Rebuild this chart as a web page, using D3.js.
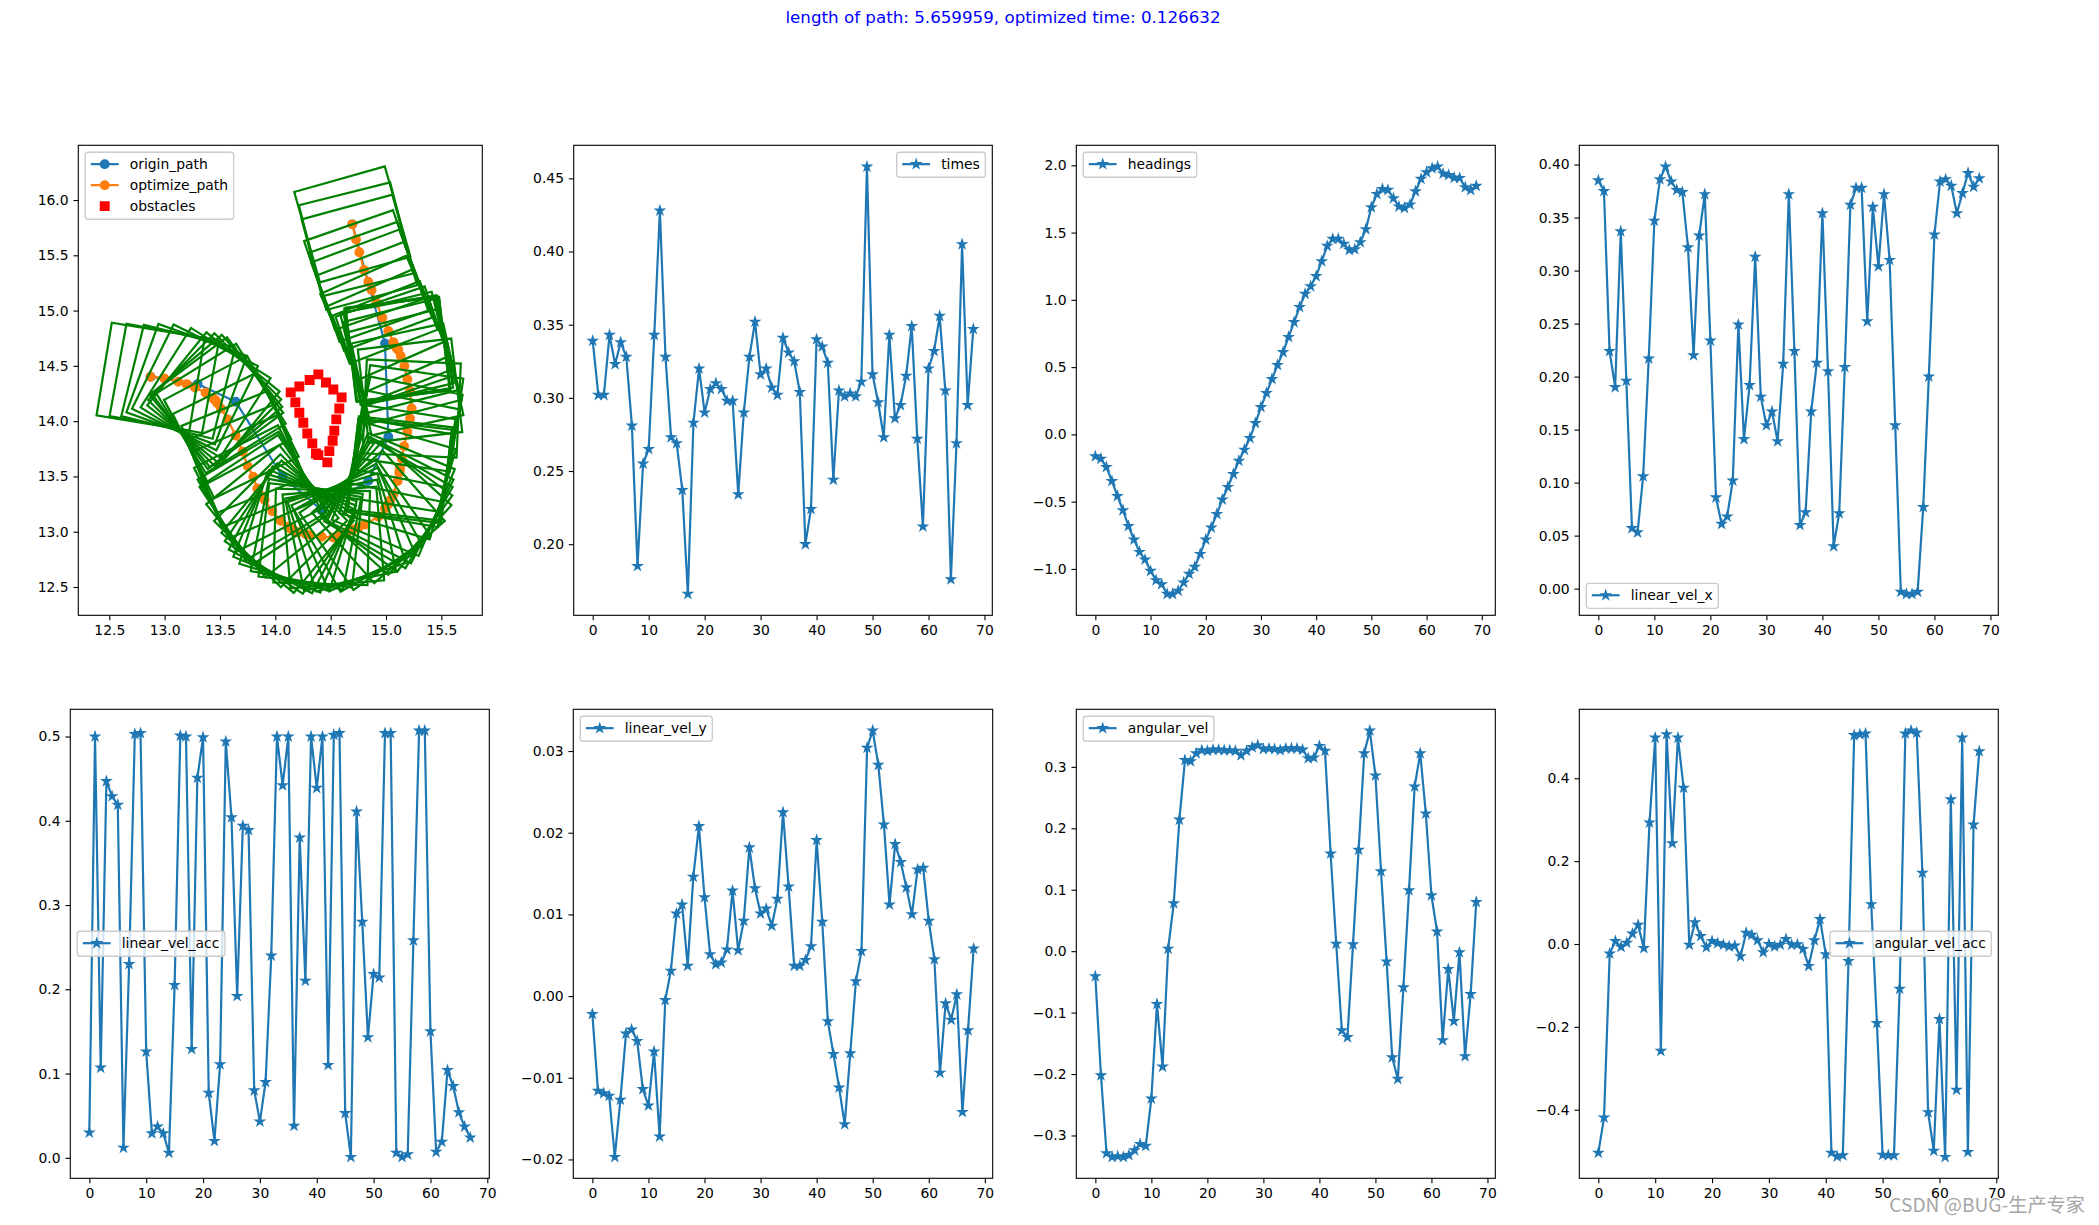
<!DOCTYPE html>
<html lang="en">
<head>
    <meta charset="UTF-8">
    <title>Path optimization</title>
    <script src="https://cdn.jsdelivr.net/npm/d3@7"></script>
    <style>
      html, body { margin: 0; padding: 0; background: #fff; }
      svg { display: block; }
      text { font-family: "DejaVu Sans", sans-serif; }
    </style>
</head>
<body>
<svg id="fig" width="2099" height="1225"></svg>
<script>
// values
const titleText = "length of path: 5.659959, optimized time: 0.126632";
const watermark = "CSDN @BUG-生产专家";

const originX = [12.873,13.298,13.642,14.066,14.419,14.840,15.021,14.991,14.696];
const originY = [14.402,14.335,14.176,13.497,13.195,13.461,13.859,14.703,15.780];

const optimizeX = [12.873,12.997,13.123,13.199,13.274,13.370,13.440,13.452,13.464,13.476,
  13.509,13.569,13.642,13.705,13.750,13.801,13.837,13.880,13.904,13.973,
  14.048,14.111,14.133,14.154,14.175,14.205,14.277,14.319,14.419,14.524,
  14.590,14.645,14.705,14.750,14.810,14.931,14.991,15.006,15.021,15.039,
  15.066,15.105,15.120,15.123,15.127,15.142,15.163,15.193,15.217,15.232,
  15.217,15.193,15.166,15.133,15.111,15.108,15.105,15.102,15.099,15.084,
  15.066,15.021,14.967,14.916,14.870,14.840,14.801,14.759,14.729,14.696];
const optimizeY = [14.402,14.387,14.356,14.335,14.305,14.257,14.206,14.194,14.182,14.163,
  14.115,14.016,13.871,13.723,13.594,13.497,13.391,13.322,13.286,13.186,
  13.099,13.045,13.030,13.017,13.005,12.993,12.978,12.969,12.954,12.948,
  12.969,12.993,13.020,13.036,13.066,13.135,13.211,13.232,13.250,13.286,
  13.337,13.458,13.533,13.551,13.572,13.663,13.774,13.904,14.025,14.115,
  14.275,14.378,14.498,14.589,14.643,14.649,14.652,14.655,14.658,14.679,
  14.715,14.815,14.935,15.071,15.186,15.261,15.367,15.527,15.644,15.780];

const obstacleX = [14.139,14.181,14.217,14.253,14.289,14.334,14.367,14.389,14.470,14.488,
  14.518,14.533,14.551,14.578,14.599,14.524,14.458,14.389,14.310,14.217];
const obstacleY = [14.260,14.170,14.076,13.986,13.889,13.799,13.708,13.693,13.627,13.729,
  13.823,13.913,14.016,14.115,14.215,14.287,14.350,14.423,14.372,14.314];

const footprintSide = 0.85;

const times = [.339,.302,.302,.343,.323,.338,.328,.281,.185,.255,.265,.343,.428,.328,.273,.269,.237,.166,.283,.320,
  .290,.306,.310,.306,.298,.298,.234,.290,.328,.352,.316,.320,.307,.302,.341,.331,.325,.304,.200,.224,
  .340,.335,.324,.244,.305,.301,.303,.301,.311,.458,.316,.297,.273,.343,.286,.295,.315,.349,.272,.212,
  .320,.332,.356,.305,.176,.269,.405,.295,.347];

const headings = [-.163,-.181,-.243,-.347,-.458,-.564,-.681,-.782,-.874,-.931,-1.015,-1.084,-1.114,-1.186,-1.186,-1.163,-1.101,-1.037,-.985,-.889,
  -.782,-.693,-.592,-.485,-.391,-.295,-.196,-.114,-.027,.084,.203,.307,.411,.515,.611,.723,.834,.946,1.045,1.101,
  1.176,1.287,1.401,1.453,1.453,1.416,1.371,1.376,1.428,1.525,1.688,1.787,1.824,1.817,1.755,1.693,1.683,1.708,1.807,1.899,
  1.948,1.978,1.990,1.938,1.928,1.908,1.906,1.837,1.817,1.847];

const linearVelX = [.385,.375,.224,.190,.337,.196,.057,.053,.106,.217,.347,.386,.398,.384,.376,.374,.322,.220,.333,.372,
  .234,.086,.061,.068,.102,.249,.141,.192,.313,.181,.154,.167,.139,.212,.372,.224,.060,.072,.167,.213,
  .354,.205,.040,.071,.209,.362,.378,.378,.252,.360,.304,.372,.310,.154,-.003,-.005,-.005,-.003,.077,.200,
  .334,.384,.386,.380,.354,.373,.392,.379,.387];

const linearVelAcc = [.030,.500,.107,.447,.429,.419,.012,.230,.503,.504,.126,.029,.037,.029,.006,.205,.501,.500,.129,.451,
  .499,.077,.020,.111,.494,.404,.192,.394,.389,.080,.043,.090,.240,.500,.442,.500,.038,.380,.210,.500,
  .439,.500,.110,.502,.504,.053,.001,.411,.280,.143,.218,.214,.504,.504,.006,.001,.004,.258,.507,.507,
  .150,.007,.019,.104,.085,.054,.037,.024];

const linearVelY = [-.0022,-.0116,-.0119,-.0122,-.0197,-.0127,-.0046,-.0041,-.0055,-.0114,-.0134,-.0068,-.0172,-.0005,.0031,.0101,.0112,.0037,.0146,.0208,
  .0121,.0051,.0039,.0041,.0057,.0129,.0056,.0092,.0182,.0132,.0101,.0107,.0086,.0119,.0225,.0134,.0037,.0037,.0044,.0061,
  .0191,.0091,-.0031,-.0071,-.0112,-.0157,-.0070,.0018,.0055,.0304,.0325,.0283,.0210,.0112,.0186,.0164,.0133,.0100,.0155,.0157,
  .0092,.0045,-.0094,-.0009,-.0029,.0002,-.0142,-.0042,.0058];

const angularVel = [-.041,-.202,-.329,-.335,-.334,-.335,-.332,-.324,-.314,-.317,-.240,-.086,-.188,.004,.078,.214,.311,.309,.322,.327,
  .326,.328,.328,.327,.327,.326,.319,.326,.332,.335,.329,.330,.329,.327,.330,.330,.330,.328,.314,.315,
  .334,.326,.159,.012,-.129,-.140,.011,.165,.322,.359,.286,.130,-.017,-.173,-.208,-.059,.099,.268,.322,.224,
  .091,.032,-.145,-.029,-.114,-.002,-.171,-.070,.080];

const angularVelAcc = [-.504,-.419,-.023,.007,-.007,.003,.025,.046,-.010,.293,.498,-.258,.506,.243,.498,.377,-.002,.052,.019,-.008,
  .007,.002,-.002,-.006,-.004,-.030,.027,.022,.009,-.020,0,-.006,-.002,.012,-.002,-.001,-.012,-.053,.009,.060,
  -.025,-.504,-.513,-.510,-.041,.504,.506,.508,.096,-.191,-.509,-.510,-.510,-.108,.508,.515,.510,.172,-.406,-.499,
  -.181,-.514,.349,-.352,.498,-.502,.288,.465];

const xTicks = [0,10,20,30,40,50,60,70];
const pathXTicks = [12.5,13,13.5,14,14.5,15,15.5];
const pathYTicks = [12.5,13,13.5,14,14.5,15,15.5,16];
const pathXDomain = [12.22,15.87];
const pathYDomain = [12.244,16.495];

const panels = [
  {name:"times", values:times, ticks:[.2,.25,.3,.35,.4,.45], fmt:".2f", legend:"ur", box:[573.7,145.3,992.3,615.3]},
  {name:"headings", values:headings, ticks:[-1,-.5,0,.5,1,1.5,2], fmt:".1f", legend:"ul", box:[1076.3,145.3,1495.3,615.3]},
  {name:"linear_vel_x", values:linearVelX, ticks:[0,.05,.1,.15,.2,.25,.3,.35,.4], fmt:".2f", legend:"ll", box:[1579.3,145.3,1998.3,615.3]},
  {name:"linear_vel_acc", values:linearVelAcc, ticks:[0,.1,.2,.3,.4,.5], fmt:".1f", legend:"cl", box:[70.3,709.3,489.3,1178.3]},
  {name:"linear_vel_y", values:linearVelY, ticks:[-.02,-.01,0,.01,.02,.03], fmt:".2f", legend:"ul", box:[573.3,709.3,992.7,1178.3]},
  {name:"angular_vel", values:angularVel, ticks:[-.3,-.2,-.1,0,.1,.2,.3], fmt:".1f", legend:"ul", box:[1076.3,709.3,1495.3,1178.3]},
  {name:"angular_vel_acc", values:angularVelAcc, ticks:[-.4,-.2,0,.2,.4], fmt:".1f", legend:"cr", box:[1579.3,709.3,1998.3,1178.3]}
];
const pathBox = [78.3,145.3,482.3,615.3];

const BLUE = "#1f77b4", ORANGE = "#ff7f0e", GREEN = "#008000", RED = "#ff0000";
const FONT = 13.9, LW = 2.2, MS = 8.33, EDGE = 1.6;

const svg = d3.select("#fig");
svg.append("rect").attr("width",2099).attr("height",1225).attr("fill","#fff");

const starPath = d3.symbol(d3.symbolStar, MS*MS/4/0.8908)();
const circlePath = d3.symbol(d3.symbolCircle, Math.PI*MS*MS/4)();
const squarePath = d3.symbol(d3.symbolSquare, MS*MS)();

function drawAxes(box, x, y, xt, yt, xFmt, yFmt) {
  const g = svg.append("g");
  g.append("g").attr("transform",`translate(0,${box[3]})`)
    .call(d3.axisBottom(x).tickValues(xt).tickFormat(d3.format(xFmt)).tickSize(4.86).tickPadding(4.86).tickSizeOuter(0))
    .call(a => a.select(".domain").remove());
  g.append("g").attr("transform",`translate(${box[0]},0)`)
    .call(d3.axisLeft(y).tickValues(yt).tickFormat(d3.format(yFmt)).tickSize(4.86).tickPadding(4.86).tickSizeOuter(0))
    .call(a => a.select(".domain").remove());
  g.selectAll("text").attr("font-size",FONT).attr("font-family",'"DejaVu Sans"').attr("fill","#000");
  g.selectAll("line").attr("stroke","#000").attr("stroke-width",1.1);
}

function drawFrame(box) {
  svg.append("rect").attr("x",box[0]).attr("y",box[1])
    .attr("width",box[2]-box[0]).attr("height",box[3]-box[1])
    .attr("fill","none").attr("stroke","#000").attr("stroke-width",1.1);
}

function drawLine(pts, x, y, color, marker) {
  const line = d3.line().x(d => x(d[0])).y(d => y(d[1]));
  svg.append("path").attr("d",line(pts)).attr("fill","none")
    .attr("stroke",color).attr("stroke-width",LW).attr("stroke-linejoin","round");
  drawMarkers(pts, x, y, color, marker);
}

function drawMarkers(pts, x, y, color, marker) {
  svg.append("g").selectAll("path").data(pts).enter().append("path")
    .attr("d",marker)
    .attr("transform",d => `translate(${x(d[0])},${y(d[1])})`)
    .attr("fill",color).attr("stroke",color).attr("stroke-width",EDGE);
}

// legend: entries of {label,color,marker,noLine}
function drawLegend(box, loc, entries) {
  const inset = 6.95, pad = 5.56, handle = 27.8, gap = 11.1, rowH = 21;
  const g = svg.append("g");
  const bg = g.append("rect");
  const texts = entries.map(e => g.append("text").text(e.label).attr("font-size",FONT));
  const textW = d3.max(texts, t => t.node().getComputedTextLength());
  const w = pad*2 + handle + gap + textW;
  const h = 25 + (entries.length-1)*rowH;
  const lx = loc[1] === "l" ? box[0]+inset : box[2]-inset-w;
  const ly = loc[0] === "u" ? box[1]+inset : loc[0] === "l" ? box[3]-inset-h : (box[1]+box[3])/2-h/2;
  bg.attr("x",lx).attr("y",ly).attr("width",w).attr("height",h).attr("rx",2.8)
    .attr("fill","#fff").attr("fill-opacity",0.8).attr("stroke","#ccc").attr("stroke-width",1.39);
  entries.forEach((e,i) => {
    const cy = ly + 11.9 + i*rowH;
    if (!e.noLine) {
      g.append("line").attr("x1",lx+pad).attr("x2",lx+pad+handle).attr("y1",cy).attr("y2",cy)
        .attr("stroke",e.color).attr("stroke-width",LW);
    }
    g.append("path").attr("d",e.marker).attr("transform",`translate(${lx+pad+handle/2},${cy})`)
      .attr("fill",e.color).attr("stroke",e.color).attr("stroke-width",EDGE);
    texts[i].attr("x",lx+pad+handle+gap).attr("y",cy+4.7).attr("fill","#000");
  });
}

// path panel
{
  const box = pathBox;
  const x = d3.scaleLinear().domain(pathXDomain).range([box[0],box[2]]);
  const y = d3.scaleLinear().domain(pathYDomain).range([box[3],box[1]]);
  drawAxes(box, x, y, pathXTicks, pathYTicks, ".1f", ".1f");
  drawLine(originX.map((v,i) => [v,originY[i]]), x, y, BLUE, circlePath);
  drawLine(optimizeX.map((v,i) => [v,optimizeY[i]]), x, y, ORANGE, circlePath);
  drawMarkers(obstacleX.map((v,i) => [v,obstacleY[i]]), x, y, RED, squarePath);

  // vehicle footprint at each optimized pose
  const h = footprintSide/2;
  const corners = [[h,h],[h,-h],[-h,-h],[-h,h]];
  const outline = d3.line().x(d => x(d[0])).y(d => y(d[1]));
  svg.append("g").selectAll("path").data(headings).enter().append("path")
    .attr("d",(a,i) => outline(corners.map(c => [
      optimizeX[i] + c[0]*Math.cos(a) - c[1]*Math.sin(a),
      optimizeY[i] + c[0]*Math.sin(a) + c[1]*Math.cos(a)
    ])) + "Z")
    .attr("fill","none").attr("stroke",GREEN).attr("stroke-width",LW).attr("stroke-linejoin","miter");

  drawFrame(box);
  drawLegend(box, "ul", [
    {label:"origin_path", color:BLUE, marker:circlePath},
    {label:"optimize_path", color:ORANGE, marker:circlePath},
    {label:"obstacles", color:RED, marker:squarePath, noLine:true}
  ]);
}

// series panels
panels.forEach(p => {
  const box = p.box;
  const n = p.values.length - 1;
  const ext = d3.extent(p.values);
  const my = (ext[1]-ext[0])*0.05;
  const x = d3.scaleLinear().domain([-n*0.05,n*1.05]).range([box[0],box[2]]);
  const y = d3.scaleLinear().domain([ext[0]-my,ext[1]+my]).range([box[3],box[1]]);
  drawAxes(box, x, y, xTicks, p.ticks, "d", p.fmt);
  drawLine(p.values.map((v,i) => [i,v]), x, y, BLUE, starPath);
  drawFrame(box);
  drawLegend(box, p.legend, [{label:p.name, color:BLUE, marker:starPath}]);
});

svg.append("text").attr("x",1003).attr("y",23).attr("text-anchor","middle")
  .attr("font-size",16.7).attr("fill","#0000ff").text(titleText);

svg.append("text").attr("x",2085).attr("y",1212).attr("text-anchor","end")
  .attr("font-size",19.2).attr("fill","#a6a6a6")
  .style("font-family",'"Noto Sans CJK SC", sans-serif').text(watermark);
</script>
</body>
</html>
